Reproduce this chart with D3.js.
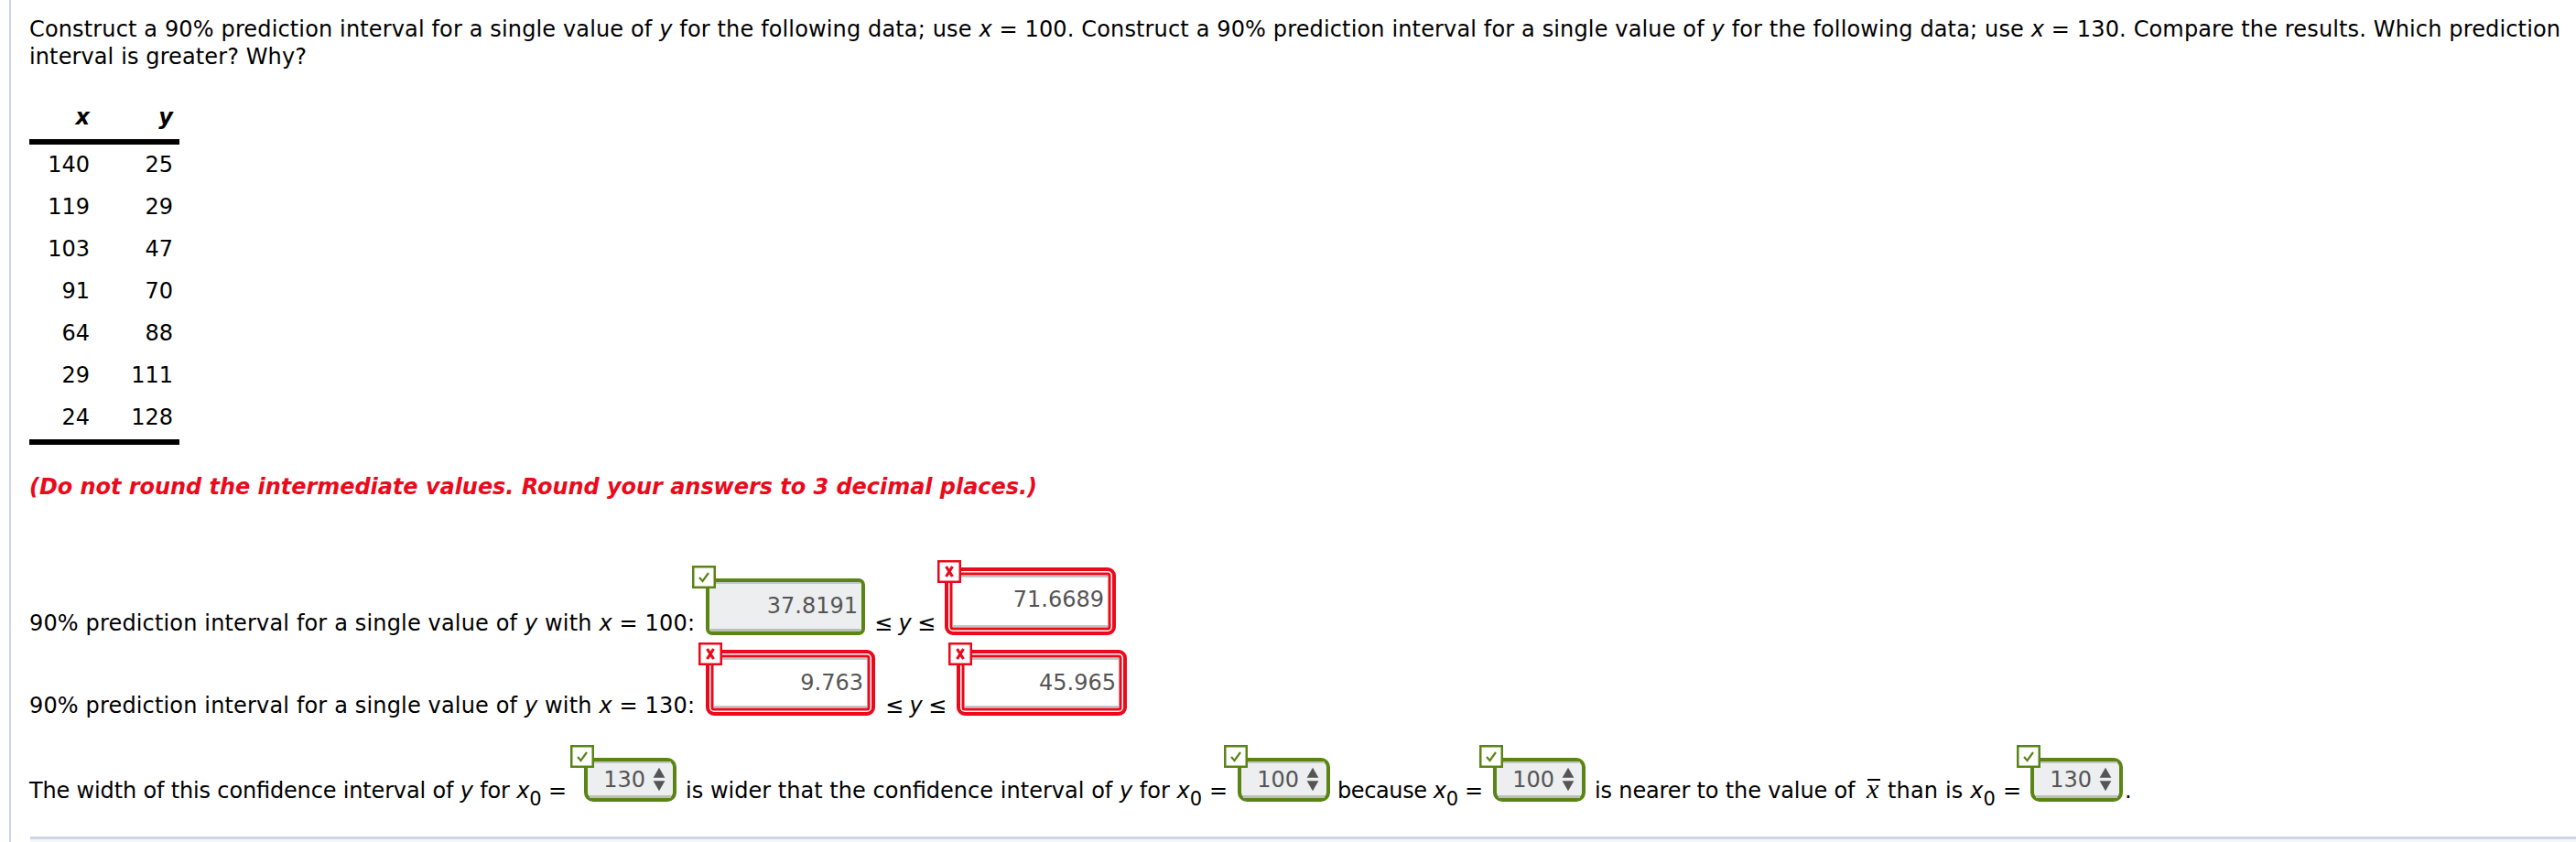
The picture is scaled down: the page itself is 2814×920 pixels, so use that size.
<!DOCTYPE html>
<html>
<head>
<meta charset="utf-8">
<style>
  html, body { margin: 0; padding: 0; background: #fff; }
  text { font-family: "DejaVu Sans", sans-serif; font-size: 24px; fill: #000; white-space: pre; }
</style>
</head>
<body>
<svg id="page" width="2814" height="920"></svg>

<!-- Load d3.js -->
<script src="https://d3js.org/d3.v7.min.js"></script>

<script>
  // table data
  var xValues = [140, 119, 103, 91, 64, 29, 24];
  var yValues = [25, 29, 47, 70, 88, 111, 128];

  // typed answers
  var intervalAnswers = ["37.8191", "71.6689", "9.763", "45.965"];
  var intervalCorrect = [true, false, false, false];
  var selectAnswers = ["130", "100", "100", "130"];

  var green = "#5a8514", red = "#ea0a1b", rail = "#ccd6e6";

  var svg = d3.select("#page");

  // left rail and the top edge of the next panel
  svg.append("rect").attr("x", 10).attr("y", 0).attr("width", 2).attr("height", 920).attr("fill", rail);
  svg.append("rect").attr("x", 33).attr("y", 914).attr("width", 2781).attr("height", 6).attr("fill", "#f4f6fa");
  svg.append("rect").attr("x", 33).attr("y", 914).attr("width", 2781).attr("height", 3).attr("fill", rail);

  // write a line from pieces: plain string, or [string, "i"] italic, or [string, "s"] subscript
  function line(x, y, pieces, width) {
    var t = svg.append("text").attr("x", x).attr("y", y);
    if (width) t.attr("textLength", width).attr("lengthAdjust", "spacing");
    var back = 0;
    pieces.forEach(function (p) {
      var s = t.append("tspan");
      if (typeof p === "string") {
        s.text(p).attr("dy", back);
        back = 0;
      } else if (p[1] === "i") {
        s.text(p[0]).attr("dy", back).style("font-style", "italic");
        back = 0;
      } else {
        s.text(p[0]).attr("dy", 8).style("font-size", "21px");
        back = -8;
      }
    });
    return t;
  }

  var y_ = ["y", "i"], x_ = ["x", "i"];

  line(32, 40, [
    "Construct a 90% prediction interval for a single value of ", y_, " for the following data; use ", x_,
    " = 100. Construct a 90% prediction interval for a single value of ", y_, " for the following data; use ", x_,
    " = 130. Compare the results. Which prediction"
  ], 2765);
  line(32, 70, ["interval is greater? Why?"], 303);

  // table: rows and columns through scales
  var rowY = d3.scalePoint().domain(d3.range(xValues.length)).range([188, 464]);
  var colX = d3.scaleOrdinal().domain(["x", "y"]).range([98, 189]);

  ["x", "y"].forEach(function (c) {
    svg.append("text").attr("x", colX(c)).attr("y", 136).attr("text-anchor", "end")
      .style("font-weight", "bold").style("font-style", "italic").text(c);
  });
  [xValues, yValues].forEach(function (col, i) {
    svg.append("g").selectAll("text").data(col).enter().append("text")
      .attr("x", colX(i ? "y" : "x"))
      .attr("y", function (d, j) { return rowY(j); })
      .attr("text-anchor", "end")
      .text(function (d) { return d; });
  });
  [152, 480].forEach(function (ry) {
    svg.append("rect").attr("x", 32).attr("y", ry).attr("width", 164).attr("height", 6).attr("fill", "#000");
  });

  svg.append("text").attr("x", 32).attr("y", 540)
    .attr("textLength", 1101).attr("lengthAdjust", "spacing")
    .style("fill", red).style("font-weight", "bold").style("font-style", "italic")
    .text("(Do not round the intermediate values. Round your answers to 3 decimal places.)");

  // small check / cross badge
  function badge(x, y, ok) {
    var c = ok ? green : red;
    var g = svg.append("g").attr("transform", "translate(" + x + "," + y + ")");
    g.append("rect").attr("x", 1.25).attr("y", 1.25).attr("width", 23.5).attr("height", 22.5)
      .attr("fill", "#fff").attr("stroke", c).attr("stroke-width", 2.5);
    g.append("path")
      .attr("d", ok ? "M8,13 L11.5,17 L18,8" : "M9.5,7 L16.5,18 M16.5,7 L9.5,18")
      .attr("fill", "none").attr("stroke", c).attr("stroke-width", ok ? 2.2 : 3.2);
  }

  // answer box, right aligned value
  function answerBox(x0, x1, y0, y1, value, ok, textRight, textY) {
    if (ok) {
      svg.append("rect").attr("x", x0 + 2).attr("y", y0 + 2).attr("width", x1 - x0 - 4).attr("height", y1 - y0 - 4)
        .attr("rx", 5).attr("fill", "#eceef0").attr("stroke", green).attr("stroke-width", 4);
      svg.append("rect").attr("x", x0 + 5).attr("y", y0 + 4).attr("width", x1 - x0 - 10).attr("height", 2).attr("fill", "#c4c6c6");
      svg.append("rect").attr("x", x0 + 5).attr("y", y1 - 7).attr("width", x1 - x0 - 10).attr("height", 3).attr("fill", "#bcbebe");
    } else {
      svg.append("rect").attr("x", x0 + 2).attr("y", y0 + 2).attr("width", x1 - x0 - 4).attr("height", y1 - y0 - 4)
        .attr("rx", 7).attr("fill", "#fff").attr("stroke", red).attr("stroke-width", 4);
      svg.append("rect").attr("x", x0 + 7).attr("y", y0 + 7).attr("width", x1 - x0 - 14).attr("height", y1 - y0 - 14)
        .attr("rx", 2).attr("fill", "#fff").attr("stroke", red).attr("stroke-width", 3);
      svg.append("rect").attr("x", x0 + 9).attr("y", y0 + 9).attr("width", x1 - x0 - 18).attr("height", 2).attr("fill", "#c4c6c6");
      svg.append("rect").attr("x", x0 + 9).attr("y", y1 - 11).attr("width", x1 - x0 - 18).attr("height", 2).attr("fill", "#c4c6c6");
    }
    svg.append("text").attr("x", textRight).attr("y", textY).attr("text-anchor", "end")
      .style("fill", "#555").text(value);
  }

  // dropdown with up/down arrows
  var tri = d3.symbol().type(d3.symbolTriangle).size(70);
  function selectBox(x0, value) {
    var w = 101, y0 = 828, h = 48;
    svg.append("rect").attr("x", x0 + 2).attr("y", y0 + 2).attr("width", w - 4).attr("height", h - 4)
      .attr("rx", 8).attr("fill", "#eceef0").attr("stroke", green).attr("stroke-width", 4);
    svg.append("rect").attr("x", x0 + 6).attr("y", y0 + 4).attr("width", w - 12).attr("height", 2).attr("fill", "#c4c6c6");
    svg.append("rect").attr("x", x0 + 6).attr("y", y0 + h - 7).attr("width", w - 12).attr("height", 3).attr("fill", "#bcbebe");
    svg.append("text").attr("x", x0 + 67).attr("y", 860).attr("text-anchor", "end")
      .style("fill", "#555").text(value);
    svg.append("path").attr("d", tri).attr("fill", "#555")
      .attr("transform", "translate(" + (x0 + 82) + ",846)");
    svg.append("path").attr("d", tri).attr("fill", "#555")
      .attr("transform", "translate(" + (x0 + 82) + ",857) rotate(180)");
    badge(x0 - 15, 814, true);
  }

  // interval rows
  line(32, 689, ["90% prediction interval for a single value of ", y_, " with ", x_, " = 100:"], 727);
  answerBox(771, 945, 632, 694, intervalAnswers[0], intervalCorrect[0], 937, 670);
  badge(756, 618, intervalCorrect[0]);
  line(955, 689, ["\u2264 ", y_, " \u2264"], 67);
  answerBox(1032, 1219, 620, 694, intervalAnswers[1], intervalCorrect[1], 1206, 663);
  badge(1024, 612, intervalCorrect[1]);

  line(32, 779, ["90% prediction interval for a single value of ", y_, " with ", x_, " = 130:"], 727);
  answerBox(771, 956, 710, 782, intervalAnswers[2], intervalCorrect[2], 943, 754);
  badge(763, 702, intervalCorrect[2]);
  line(967, 779, ["\u2264 ", y_, " \u2264"], 67);
  answerBox(1045, 1231, 710, 782, intervalAnswers[3], intervalCorrect[3], 1219, 754);
  badge(1036, 702, intervalCorrect[3]);

  // last sentence
  line(32, 872, ["The width of this confidence interval of ", y_, " for ", x_, ["0", "s"], " ="], 587);
  selectBox(638, selectAnswers[0]);
  line(749, 872, ["is wider that the confidence interval of ", y_, " for ", x_, ["0", "s"], " ="], 592);
  selectBox(1352, selectAnswers[1]);
  line(1461, 872, ["because ", x_, ["0", "s"], " ="], 159);
  selectBox(1631, selectAnswers[2]);
  line(1742, 872, ["is nearer to the value of "], 292);
  svg.append("text").attr("x", 2039).attr("y", 872)
    .style("font-family", "'Liberation Serif', serif").style("font-style", "italic").style("font-size", "30px").text("x");
  svg.append("rect").attr("x", 2040).attr("y", 851).attr("width", 14).attr("height", 2).attr("fill", "#000");
  line(2062, 872, ["than is ", x_, ["0", "s"], " ="], 146);
  selectBox(2218, selectAnswers[3]);
  line(2321, 872, ["."]);
</script>
</body>
</html>
